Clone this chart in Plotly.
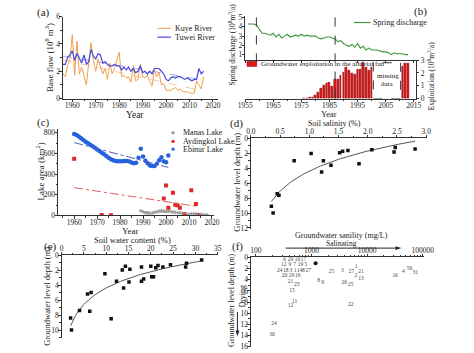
import numpy as np
import plotly.graph_objects as go

W, H = 474, 353
FONT = "Liberation Serif"
INK = "#333333"

# ---------------- data ----------------
# (a) base flow
years_a = list(range(1956, 2017))
kuye_river = [1.8, 1.6, 2.4, 2.9, 4.7, 1.7, 4.2, 1.8, 2.3, 1.7,
              1.0, 2.6, 4.1, 2.8, 2.0, 2.9, 2.4, 1.8, 2.2, 1.4,
              2.6, 1.8, 2.2, 2.8, 3.4, 1.6, 1.7, 1.5, 1.6, 1.2,
              2.4, 1.3, 1.4, 2.5, 1.6, 1.5, 1.7, 1.3, 0.9, 2.1,
              1.6, 1.9, 1.0, 1.1, 0.6, 0.6, 0.6, 0.7, 0.8, 0.6,
              0.7, 0.5, 0.5, 0.5, 0.4, 0.4, 0.4, 1.3, 1.0, 0.7, 1.6]
tuwei_river = [2.5, 2.5, 3.0, 3.2, 3.5, 2.8, 3.3, 2.9, 2.6, 3.2,
               2.5, 2.7, 3.6, 3.1, 2.9, 3.3, 3.2, 2.6, 2.7, 2.5,
               2.4, 2.4, 2.5, 2.4, 2.4, 2.1, 2.3, 2.1, 2.3, 2.0,
               2.2, 1.9, 2.0, 2.4, 1.9, 2.0, 1.8, 2.0, 1.8, 2.2,
               2.2, 2.2, 2.0, 1.8, 1.4, 1.3, 1.5, 1.6, 1.5, 1.6,
               1.6, 1.5, 1.4, 1.5, 1.4, 1.3, 1.4, 1.4, 2.2, 1.8, 2.0]

# (b) spring discharge and exploitation
years_spring = list(range(1956, 2014))
spring_discharge = [4.3, 4.3, 4.3, 4.2, 3.7, 3.3, 3.3, 3.2, 3.1, 3.3,
                    2.9, 3.2, 2.8, 3.0, 3.2, 2.9, 3.0, 3.1, 3.0, 3.2,
                    3.0, 3.1, 3.0, 3.0, 3.0, 2.8, 2.7, 2.8, 2.9, 2.9,
                    2.8, 2.7, 2.4, 2.5, 2.2, 2.0, 1.9, 2.1, 1.8, 2.2,
                    1.7, 1.9, 1.5, 1.7, 1.5, 1.5, 1.5, 1.4, 1.3, 1.3,
                    1.2, 1.0, 1.2, 1.1, 1.1, 1.1, 1.0, 1.0]
years_expl = list(range(1976, 2001)) + [2011, 2012, 2013]
exploitation = [0.02, 0.03, 0.05, 0.1, 0.2, 0.45, 0.8, 1.0, 1.15, 1.25,
                0.95, 1.5, 1.5, 1.8, 2.05, 2.45, 2.2, 1.95, 1.9, 2.3,
                2.3, 2.85, 2.4, 2.2, 2.45, 2.5, 2.7, 2.75]
break_years = [1959, 1987]
missing_span = [2000.6, 2010.3]

# (c) lake area
years_ebinur = list(range(1960, 2002))
ebinur_lake = [790, 780, 765, 748, 732, 715, 700, 685, 670, 655,
               640, 625, 608, 592, 575, 560, 545, 535, 528, 525,
               524, 525, 527, 527, 522, 512, 505, 510, 558, 645,
               570, 530, 505, 485, 478, 480, 500, 535, 565, 525,
               515, 580]
years_aydingkol = [1960, 1972, 1976, 1999, 2000, 2001, 2003, 2004, 2005, 2006, 2008, 2011, 2013, 2014]
aydingkol_lake = [550, 5, 3, 165, 290, 75, 220, 105, 100, 75, 15, 245, 110, 5]
years_manas = list(range(1989, 2019))
manas_lake = [45, 35, 25, 22, 20, 22, 30, 35, 42, 48,
              45, 40, 42, 38, 35, 30, 28, 25, 20, 15,
              10, 12, 15, 18, 15, 12, 10, 8, 5, 5]

# (d) soil salinity vs groundwater depth
soil_salinity = [0.35, 0.38, 0.45, 0.48, 0.74, 1.03, 1.21, 1.24, 1.37, 1.52,
                 1.57, 1.66, 1.85, 2.07, 2.45, 2.47, 2.81]
depth_d = [9.1, 10.0, 7.4, 7.6, 3.0, 2.0, 4.5, 3.0, 3.6, 1.9,
           1.7, 1.6, 3.4, 1.5, 1.8, 1.2, 1.4]

# (e) soil water content vs groundwater depth
soil_water = [2.0, 2.2, 4.0, 5.8, 6.6, 6.3, 9.7, 11.1, 12.3, 13.6,
              13.9, 14.3, 15.1, 15.3, 17.9, 17.9, 18.4, 20.0, 20.2, 20.6,
              21.1, 21.6, 22.7, 24.4, 27.8, 28.0, 31.4]
depth_e = [8.4, 10.0, 7.4, 5.2, 5.0, 7.5, 2.5, 8.5, 3.5, 2.0,
           4.4, 1.5, 3.6, 1.9, 1.6, 3.5, 3.2, 1.5, 2.9, 2.9,
           1.7, 1.4, 1.6, 1.3, 1.6, 1.1, 0.65]

# (f) groundwater salinity vs depth (well numbers)
well_ids = ["6", "29", "10", "17",
            "12", "9", "7", "19", "5",
            "24", "18", "3", "1", "14", "8", "27",
            "20", "29", "16",
            "21", "23", "15", "11", "12", "24", "30",
            "25", "3", "27", "1", "21", "2", "13",
            "8", "9", "26", "25", "22",
            "16", "4", "56", "31"]
gw_salinity = [330, 420, 560, 720,
               320, 410, 500, 640, 800,
               270, 345, 430, 510, 610, 720, 880,
               330, 440, 570,
               420, 545, 450, 500, 420, 212, 195,
               2300, 3600, 5200, 6400, 7800, 6300, 7800,
               1350, 1600, 3900, 5100, 5100,
               32000, 45000, 58000, 74000]
depth_f = [0.35, 0.35, 0.35, 0.35,
           1.3, 1.3, 1.3, 1.3, 1.3,
           2.3, 2.3, 2.3, 2.3, 2.3, 2.3, 2.3,
           3.3, 3.3, 3.3,
           4.3, 4.9, 5.9, 7.9, 8.7, 11.9, 13.9,
           2.5, 2.3, 2.5, 1.7, 2.5, 3.2, 3.8,
           4.2, 4.6, 4.6, 4.9, 8.4,
           3.2, 2.6, 2.0, 2.7]
marked_well_salinity = [1190]
marked_well_depth = [1.05]

# ---------------- helpers ----------------
def dom_x(a, b):
    return [a / W, b / W]

def dom_y(top, bottom):
    return [1 - bottom / H, 1 - top / H]

def px(x):
    return x / W

def py(y):
    return 1 - y / H

def axis(**kw):
    base = dict(showline=True, linecolor=INK, linewidth=1, ticks="outside", ticklen=2.5,
                tickwidth=1, tickcolor=INK, showgrid=False, zeroline=False,
                tickfont=dict(family=FONT, size=7.5, color="#222"))
    base.update(kw)
    return base

def minor(dtick, tick0=0):
    return dict(ticks="outside", ticklen=1.5, tick0=tick0, dtick=dtick, tickcolor=INK)

def fit_line(x, y):
    p = np.polyfit(np.asarray(x, float), np.asarray(y, float), 1)
    xs = np.array([min(x), max(x)], float)
    return xs, np.polyval(p, xs)

def fit_log(x, y):
    p = np.polyfit(np.log(np.asarray(x, float)), np.asarray(y, float), 1)
    xs = np.linspace(min(x), max(x), 80)
    return xs, np.polyval(p, np.log(xs))

fig = go.Figure()

# ---- (a)
tx, ty = fit_line(years_a, kuye_river)
fig.add_trace(go.Scatter(x=tx, y=ty, mode="lines", line=dict(color="#F7C9A0", width=1, dash="dash"),
                         xaxis="x", yaxis="y", showlegend=False))
tx, ty = fit_line(years_a, tuwei_river)
fig.add_trace(go.Scatter(x=tx, y=ty, mode="lines", line=dict(color="#A8A8F0", width=1, dash="dash"),
                         xaxis="x", yaxis="y", showlegend=False))
fig.add_trace(go.Scatter(x=years_a, y=kuye_river, mode="lines", line=dict(color="#F0A050", width=1),
                         xaxis="x", yaxis="y", showlegend=False))
fig.add_trace(go.Scatter(x=years_a, y=tuwei_river, mode="lines", line=dict(color="#4646DC", width=1.2),
                         xaxis="x", yaxis="y", showlegend=False))

# ---- (b)
fig.add_trace(go.Scatter(x=years_spring, y=spring_discharge, mode="lines", line=dict(color="#3C963C", width=1.1),
                         xaxis="x2", yaxis="y2", showlegend=False))
fig.add_trace(go.Bar(x=years_expl, y=exploitation, width=0.62,
                     marker=dict(color="#E8161C", line=dict(color="#8B0000", width=0.6)),
                     xaxis="x3", yaxis="y3", showlegend=False))

# ---- (c)
fig.add_trace(go.Scatter(x=years_manas, y=manas_lake, mode="markers",
                         marker=dict(color="#9A9A9A", size=3, symbol="cross"),
                         xaxis="x4", yaxis="y4", showlegend=False))
fig.add_trace(go.Scatter(x=years_aydingkol, y=aydingkol_lake, mode="markers",
                         marker=dict(color="#E02828", size=4, symbol="square"),
                         xaxis="x4", yaxis="y4", showlegend=False))
fig.add_trace(go.Scatter(x=years_ebinur, y=ebinur_lake, mode="markers",
                         marker=dict(color="#2563DB", size=4.5),
                         xaxis="x4", yaxis="y4", showlegend=False))
for xs_, ys_, col in [(years_ebinur, ebinur_lake, "#5A5AC8"),
                      (years_aydingkol, aydingkol_lake, "#E06060"),
                      (years_manas, manas_lake, "#A0A0A0")]:
    tx, ty = fit_line(xs_, ys_)
    fig.add_trace(go.Scatter(x=tx, y=ty, mode="lines", line=dict(color=col, width=1, dash="dashdot"),
                             xaxis="x4", yaxis="y4", showlegend=False))

# ---- (d)
cx, cy = fit_log(soil_salinity, depth_d)
fig.add_trace(go.Scatter(x=cx, y=cy, mode="lines", line=dict(color="#555", width=1),
                         xaxis="x5", yaxis="y5", showlegend=False))
fig.add_trace(go.Scatter(x=soil_salinity, y=depth_d, mode="markers",
                         marker=dict(color="#111", size=3.5, symbol="square"),
                         xaxis="x5", yaxis="y5", showlegend=False))

# ---- (e)
cx, cy = fit_log(soil_water, depth_e)
fig.add_trace(go.Scatter(x=cx, y=cy, mode="lines", line=dict(color="#555", width=1),
                         xaxis="x6", yaxis="y6", showlegend=False))
fig.add_trace(go.Scatter(x=soil_water, y=depth_e, mode="markers",
                         marker=dict(color="#111", size=3.5, symbol="square"),
                         xaxis="x6", yaxis="y6", showlegend=False))

# ---- (f)
fig.add_trace(go.Scatter(x=gw_salinity, y=depth_f, mode="text", text=well_ids,
                         textfont=dict(family=FONT, size=5.5, color="#444"),
                         xaxis="x7", yaxis="y7", showlegend=False))
fig.add_trace(go.Scatter(x=marked_well_salinity, y=marked_well_depth, mode="markers",
                         marker=dict(color="#111", size=4),
                         xaxis="x7", yaxis="y7", showlegend=False))

# ---------------- axes ----------------
decades_a = [1960, 1970, 1980, 1990, 2000, 2010, 2020]
SO = -2
layout_axes = dict(
    xaxis=axis(domain=dom_x(58, 218.5), range=[1956, 2022], anchor="y", tickvals=decades_a,
               ticklabelstandoff=-3, minor=minor(5, 1955)),
    yaxis=axis(domain=dom_y(13, 97), range=[0, 6], anchor="x", dtick=2, ticklabelstandoff=SO,
               minor=minor(1)),
    xaxis2=axis(domain=dom_x(247, 424), range=[1955, 2015.7], anchor="y2", showticklabels=False,
                tick0=1955, dtick=10, ticklen=2),
    yaxis2=axis(domain=dom_y(12, 57), range=[0.47, 5.2], anchor="x2", tickvals=[1, 2, 3, 4, 5],
                ticklabelstandoff=SO),
    xaxis3=axis(domain=dom_x(247, 424), range=[1955, 2015.7], anchor="y3", tick0=1955, dtick=10,
                ticklabelstandoff=-3, minor=minor(5, 1955)),
    yaxis3=axis(domain=dom_y(57, 97), range=[0, 3.05], anchor="x3", side="right", tickvals=[0, 1, 2, 3],
                ticklabelstandoff=0),
    xaxis4=axis(domain=dom_x(53, 215), range=[1953, 2021], anchor="y4", tickvals=decades_a,
                ticklabelstandoff=-3, minor=minor(5, 1955)),
    yaxis4=axis(domain=dom_y(128, 217), range=[0, 840], anchor="x4", tickvals=[0, 200, 400, 600, 800],
                ticklabelstandoff=SO, minor=minor(100)),
    xaxis5=axis(domain=dom_x(253, 436), range=[0, 3.02], anchor="y5", side="top", dtick=0.5,
                tickformat=".1f", ticklabelstandoff=SO, minor=minor(0.25)),
    yaxis5=axis(domain=dom_y(138, 231), range=[12.15, 0], anchor="x5", dtick=2, ticklabelstandoff=SO,
                minor=minor(1)),
    xaxis6=axis(domain=dom_x(56.7, 219), range=[0, 35.1], anchor="y6", side="top", dtick=5,
                ticklabelstandoff=SO, minor=minor(2.5)),
    yaxis6=axis(domain=dom_y(257.7, 343), range=[11.1, 0], anchor="x6", dtick=2, ticklabelstandoff=SO,
                minor=minor(1)),
    xaxis7=axis(domain=dom_x(253, 433), type="log", range=[1.913, 5.033], anchor="y7", side="top",
                tickvals=[100, 1000, 10000, 100000], ticktext=["100", "1000", "10000", "100000"],
                ticklabelstandoff=SO,
                minor=dict(ticks="outside", ticklen=1.5, tickcolor=INK,
                           tickvals=[m * 10 ** e for e in (2, 3, 4) for m in range(2, 10)])),
    yaxis7=axis(domain=dom_y(260, 352), range=[16.05, 0], anchor="x7", dtick=2, ticklabelstandoff=SO,
                minor=minor(1)),
)

# ---------------- shapes ----------------
shapes = []
dash_col = "#333"
shapes.append(dict(type="line", xref="x2", yref="paper", x0=break_years[0], x1=break_years[0],
                   y0=py(60), y1=py(13), line=dict(color=dash_col, width=1, dash="dash")))
shapes.append(dict(type="line", xref="x2", yref="paper", x0=break_years[1], x1=break_years[1],
                   y0=py(97), y1=py(13), line=dict(color=dash_col, width=1, dash="dash")))
shapes.append(dict(type="rect", xref="x3", yref="y3", x0=missing_span[0], x1=missing_span[1], y0=0, y1=2.8,
                   line=dict(color=dash_col, width=1, dash="dash")))
# legends (a)
shapes.append(dict(type="line", xref="paper", yref="paper", x0=px(156), x1=px(170), y0=py(25), y1=py(25),
                   line=dict(color="#F0A050", width=1)))
shapes.append(dict(type="line", xref="paper", yref="paper", x0=px(156), x1=px(170), y0=py(34), y1=py(34),
                   line=dict(color="#4646DC", width=1.2)))
# legend (b)
shapes.append(dict(type="line", xref="paper", yref="paper", x0=px(360), x1=px(377), y0=py(19), y1=py(19),
                   line=dict(color="#3C963C", width=1.2)))
shapes.append(dict(type="rect", xref="paper", yref="paper", x0=px(249), x1=px(259), y0=py(64), y1=py(59),
                   fillcolor="#E8161C", line=dict(color="#8B0000", width=0.6)))
# legend (c)
for yy, col in [(132, "#9A9A9A"), (141, "#E02828"), (149, "#2563DB")]:
    shapes.append(dict(type="circle", xref="paper", yref="paper", x0=px(170.5), x1=px(174),
                       y0=py(yy + 1.7), y1=py(yy - 1.7), fillcolor=col, line=dict(color=col, width=0)))
# arrows in (f)
shapes.append(dict(type="line", xref="paper", yref="paper", x0=px(289), x1=px(404), y0=py(250.5), y1=py(250.5),
                   line=dict(color="#222", width=1)))
shapes.append(dict(type="path", xref="paper", yref="paper",
                   path=f"M {px(409)},{py(250.5)} L {px(403)},{py(248.5)} L {px(403)},{py(252.5)} Z",
                   fillcolor="#222", line=dict(color="#222", width=0)))
shapes.append(dict(type="line", xref="paper", yref="paper", x0=px(239), x1=px(239), y0=py(316), y1=py(336),
                   line=dict(color="#222", width=1)))
shapes.append(dict(type="path", xref="paper", yref="paper",
                   path=f"M {px(239)},{py(341)} L {px(237)},{py(335)} L {px(241)},{py(335)} Z",
                   fillcolor="#222", line=dict(color="#222", width=0)))

# ---------------- annotations ----------------
ann = []

def text(x, y, s, size=8, xanchor="center", angle=0, color="#222"):
    ann.append(dict(x=px(x), y=py(y), xref="paper", yref="paper", text=s, showarrow=False,
                    xanchor=xanchor, yanchor="middle", textangle=angle,
                    font=dict(family=FONT, size=size, color=color)))

text(38, 9, "(a)", 11)
text(429, 8, "(b)", 11)
text(38, 122, "(c)", 11)
text(238, 123, "(d)", 11)
text(45, 249, "(e)", 11)
text(239, 249, "(f)", 11)

text(133, 114, "Year", 9.5)
text(334, 113, "Year", 8.5)
text(128, 233, "Year", 9)
text(340, 123, "Soil salinity (%)", 8)
text(130, 242, "Soil water content (%)", 8.5)
text(347, 237.5, "Groundwater sanility (mg/L)", 8)
text(347, 246, "Salinating", 7.5)

text(43, 55, "Base flow (10<sup>8</sup> m<sup>3</sup>)", 9, angle=-90)
text(233, 42, "Spring discharge (10<sup>8</sup>m<sup>3</sup>/a)", 7.5, angle=-90)
text(440, 74, "Exploitation (10<sup>8</sup>m<sup>3</sup>/a)", 7.5, angle=-90)
text(34, 172, "Lake area (km<sup>2</sup>)", 9, angle=-90)
text(239, 183, "Groundwater level depth (m)", 8.5, angle=-90)
text(42, 300, "Groundwater level depth (m)", 8.5, angle=-90)
text(233, 304, "Groundwater level depth (m)", 8, angle=-90)
text(244, 300, "Drying", 8, angle=-90)

text(172, 25, "Kuye River", 8, xanchor="left")
text(172, 34, "Tuwei River", 8, xanchor="left")
text(378, 19, "Spring discharge", 8, xanchor="left")
text(261, 61.5, "Groundwater exploitation in the alluvial fan", 7, xanchor="left")
text(180, 132, "Manas Lake", 8, xanchor="left")
text(180, 141, "Aydingkol Lake", 8, xanchor="left")
text(180, 149, "Ebinur Lake", 8, xanchor="left")
text(395, 73.5, "missing", 7)
text(395, 82.5, "data", 7)

fig.update_layout(
    width=W, height=H, margin=dict(l=0, r=0, t=0, b=0),
    paper_bgcolor="white", plot_bgcolor="white",
    font=dict(family=FONT, size=8, color="#222"),
    showlegend=False, bargap=0,
    shapes=shapes, annotations=ann,
    **layout_axes,
)

fig.write_html("out.html")
